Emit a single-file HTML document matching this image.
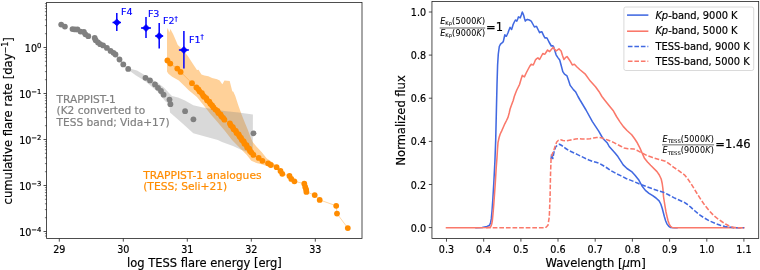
<!DOCTYPE html>
<html><head><meta charset="utf-8"><title>Flare rates and band responses</title>
<style>html,body{margin:0;padding:0;background:#fff}svg{display:block}text{font-family:'DejaVu Sans','Liberation Sans',sans-serif;}</style>
</head><body>
<svg width="760" height="270" viewBox="0 0 760 270">
<rect x="0" y="0" width="760" height="270" fill="#fff"/>
<clipPath id="cl"><rect x="46.6" y="2.4" width="315.4" height="236.15"/></clipPath>
<g clip-path="url(#cl)">
<polygon points="167.0,30.0 167.8,28.0 169.3,32.4 170.4,29.1 173.3,34.6 175.9,40.6 177.8,45.0 180.5,47.5 183.0,50.0 187.8,56.0 193.0,64.0 197.0,70.1 198.5,69.7 201.5,74.5 204.4,75.6 208.4,76.3 212.1,78.1 217.1,79.3 219.7,80.6 222.3,84.3 224.5,80.6 229.7,81.0 231.2,86.9 232.3,91.3 233.4,91.7 235.3,96.0 238.2,105.0 241.6,114.5 245.0,123.0 247.9,130.0 250.5,137.0 252.7,142.0 256.4,146.5 261.6,151.9 266.8,158.6 271.3,161.6 276.0,165.5 271.0,167.5 261.6,164.3 256.4,163.0 251.3,160.8 246.8,154.9 241.6,149.7 232.0,140.0 224.2,130.0 217.0,121.5 210.0,113.5 203.0,104.5 196.9,97.0 188.4,90.0 185.5,87.0 178.8,80.4 172.1,76.7 168.4,73.7 167.0,71.5" fill="#ff8c00" fill-opacity="0.4"/>
<polygon points="128.5,68.2 137.0,70.5 149.6,78.0 158.0,83.0 164.4,88.0 168.5,92.5 172.0,96.0 178.0,97.5 185.0,100.5 193.3,105.3 203.0,107.4 224.4,111.0 238.5,112.6 252.9,114.4 252.8,153.0 246.0,151.5 240.5,149.5 233.0,146.0 222.0,142.0 217.8,140.0 193.3,133.3 182.0,123.0 170.0,112.5 169.3,104.5 165.0,101.0 158.0,92.0 145.0,81.0 136.0,75.5 128.5,70.0" fill="#808080" fill-opacity="0.3"/>
<circle cx="61.2" cy="24.6" r="2.9" fill="#808080"/>
<circle cx="64.9" cy="26.6" r="2.9" fill="#808080"/>
<circle cx="72.5" cy="29.1" r="2.9" fill="#808080"/>
<circle cx="75.0" cy="29.4" r="2.9" fill="#808080"/>
<circle cx="77.5" cy="29.4" r="2.9" fill="#808080"/>
<circle cx="80.5" cy="31.6" r="2.9" fill="#808080"/>
<circle cx="83.9" cy="32.0" r="2.9" fill="#808080"/>
<circle cx="85.4" cy="34.3" r="2.9" fill="#808080"/>
<circle cx="88.3" cy="36.2" r="2.9" fill="#808080"/>
<circle cx="94.7" cy="38.0" r="2.9" fill="#808080"/>
<circle cx="95.7" cy="40.2" r="2.9" fill="#808080"/>
<circle cx="98.0" cy="42.4" r="2.9" fill="#808080"/>
<circle cx="100.2" cy="44.2" r="2.9" fill="#808080"/>
<circle cx="103.1" cy="45.4" r="2.9" fill="#808080"/>
<circle cx="106.9" cy="47.9" r="2.9" fill="#808080"/>
<circle cx="110.6" cy="50.9" r="2.9" fill="#808080"/>
<circle cx="113.5" cy="52.8" r="2.9" fill="#808080"/>
<circle cx="115.5" cy="54.5" r="2.9" fill="#808080"/>
<circle cx="119.5" cy="59.5" r="2.9" fill="#808080"/>
<circle cx="123.3" cy="64.4" r="2.9" fill="#808080"/>
<circle cx="128.2" cy="68.9" r="2.9" fill="#808080"/>
<circle cx="145.5" cy="77.8" r="2.9" fill="#808080"/>
<circle cx="150.0" cy="80.4" r="2.9" fill="#808080"/>
<circle cx="155.0" cy="84.4" r="2.9" fill="#808080"/>
<circle cx="158.0" cy="87.8" r="2.9" fill="#808080"/>
<circle cx="161.0" cy="91.0" r="2.9" fill="#808080"/>
<circle cx="163.6" cy="94.7" r="2.9" fill="#808080"/>
<circle cx="169.5" cy="99.6" r="2.9" fill="#808080"/>
<circle cx="170.4" cy="104.2" r="2.9" fill="#808080"/>
<circle cx="185.1" cy="111.2" r="2.9" fill="#808080"/>
<circle cx="193.4" cy="119.3" r="2.9" fill="#808080"/>
<circle cx="253.5" cy="133.3" r="2.9" fill="#808080"/>
<polyline points="167.4,60.5 170.3,63.6 177.3,68.6 180.6,71.9 192.0,83.2 196.4,87.5 198.4,89.3 199.7,91.6 201.9,93.2 203.1,95.6 204.1,96.7 206.2,98.1 207.1,100.3 209.3,101.7 210.4,103.8 212.1,105.4 213.5,107.4 215.5,109.6 217.5,110.9 218.4,113.0 220.5,114.3 221.4,116.3 223.1,117.8 224.4,119.7 229.9,123.5 230.9,125.6 232.8,127.1 233.7,129.3 235.8,130.8 236.6,133.1 238.7,134.4 239.6,136.6 241.0,137.9 241.9,140.0 243.7,141.5 244.5,143.7 246.5,145.1 247.2,147.4 249.2,148.7 250.0,150.9 251.5,152.6 253.5,154.9 258.7,157.9 262.4,160.8 268.1,163.3 270.8,165.0 276.6,167.2 280.5,171.0 282.3,173.8 289.5,176.0 291.3,178.9 294.4,181.3 304.3,183.7 305.2,186.9 306.1,189.5 306.4,191.9 314.7,195.1 319.7,199.9 336.2,205.8 337.0,213.6 347.8,228.1" fill="none" stroke="#ff8c00" stroke-opacity="0.35" stroke-width="1"/>
<circle cx="167.4" cy="60.5" r="2.9" fill="#ff8c00"/>
<circle cx="170.3" cy="63.6" r="2.9" fill="#ff8c00"/>
<circle cx="177.3" cy="68.6" r="2.9" fill="#ff8c00"/>
<circle cx="180.6" cy="71.9" r="2.9" fill="#ff8c00"/>
<circle cx="192.0" cy="83.2" r="2.9" fill="#ff8c00"/>
<circle cx="196.4" cy="87.5" r="2.9" fill="#ff8c00"/>
<circle cx="198.4" cy="89.3" r="2.9" fill="#ff8c00"/>
<circle cx="199.7" cy="91.6" r="2.9" fill="#ff8c00"/>
<circle cx="201.9" cy="93.2" r="2.9" fill="#ff8c00"/>
<circle cx="203.1" cy="95.6" r="2.9" fill="#ff8c00"/>
<circle cx="204.1" cy="96.7" r="2.9" fill="#ff8c00"/>
<circle cx="206.2" cy="98.1" r="2.9" fill="#ff8c00"/>
<circle cx="207.1" cy="100.3" r="2.9" fill="#ff8c00"/>
<circle cx="209.3" cy="101.7" r="2.9" fill="#ff8c00"/>
<circle cx="210.4" cy="103.8" r="2.9" fill="#ff8c00"/>
<circle cx="212.1" cy="105.4" r="2.9" fill="#ff8c00"/>
<circle cx="213.5" cy="107.4" r="2.9" fill="#ff8c00"/>
<circle cx="215.5" cy="109.6" r="2.9" fill="#ff8c00"/>
<circle cx="217.5" cy="110.9" r="2.9" fill="#ff8c00"/>
<circle cx="218.4" cy="113.0" r="2.9" fill="#ff8c00"/>
<circle cx="220.5" cy="114.3" r="2.9" fill="#ff8c00"/>
<circle cx="221.4" cy="116.3" r="2.9" fill="#ff8c00"/>
<circle cx="223.1" cy="117.8" r="2.9" fill="#ff8c00"/>
<circle cx="224.4" cy="119.7" r="2.9" fill="#ff8c00"/>
<circle cx="229.9" cy="123.5" r="2.9" fill="#ff8c00"/>
<circle cx="230.9" cy="125.6" r="2.9" fill="#ff8c00"/>
<circle cx="232.8" cy="127.1" r="2.9" fill="#ff8c00"/>
<circle cx="233.7" cy="129.3" r="2.9" fill="#ff8c00"/>
<circle cx="235.8" cy="130.8" r="2.9" fill="#ff8c00"/>
<circle cx="236.6" cy="133.1" r="2.9" fill="#ff8c00"/>
<circle cx="238.7" cy="134.4" r="2.9" fill="#ff8c00"/>
<circle cx="239.6" cy="136.6" r="2.9" fill="#ff8c00"/>
<circle cx="241.0" cy="137.9" r="2.9" fill="#ff8c00"/>
<circle cx="241.9" cy="140.0" r="2.9" fill="#ff8c00"/>
<circle cx="243.7" cy="141.5" r="2.9" fill="#ff8c00"/>
<circle cx="244.5" cy="143.7" r="2.9" fill="#ff8c00"/>
<circle cx="246.5" cy="145.1" r="2.9" fill="#ff8c00"/>
<circle cx="247.2" cy="147.4" r="2.9" fill="#ff8c00"/>
<circle cx="249.2" cy="148.7" r="2.9" fill="#ff8c00"/>
<circle cx="250.0" cy="150.9" r="2.9" fill="#ff8c00"/>
<circle cx="251.5" cy="152.6" r="2.9" fill="#ff8c00"/>
<circle cx="253.5" cy="154.9" r="2.9" fill="#ff8c00"/>
<circle cx="258.7" cy="157.9" r="2.9" fill="#ff8c00"/>
<circle cx="262.4" cy="160.8" r="2.9" fill="#ff8c00"/>
<circle cx="268.1" cy="163.3" r="2.9" fill="#ff8c00"/>
<circle cx="270.8" cy="165.0" r="2.9" fill="#ff8c00"/>
<circle cx="276.6" cy="167.2" r="2.9" fill="#ff8c00"/>
<circle cx="280.5" cy="171.0" r="2.9" fill="#ff8c00"/>
<circle cx="282.3" cy="173.8" r="2.9" fill="#ff8c00"/>
<circle cx="289.5" cy="176.0" r="2.9" fill="#ff8c00"/>
<circle cx="291.3" cy="178.9" r="2.9" fill="#ff8c00"/>
<circle cx="294.4" cy="181.3" r="2.9" fill="#ff8c00"/>
<circle cx="304.3" cy="183.7" r="2.9" fill="#ff8c00"/>
<circle cx="305.2" cy="186.9" r="2.9" fill="#ff8c00"/>
<circle cx="306.1" cy="189.5" r="2.9" fill="#ff8c00"/>
<circle cx="306.4" cy="191.9" r="2.9" fill="#ff8c00"/>
<circle cx="314.7" cy="195.1" r="2.9" fill="#ff8c00"/>
<circle cx="319.7" cy="199.9" r="2.9" fill="#ff8c00"/>
<circle cx="336.2" cy="205.8" r="2.9" fill="#ff8c00"/>
<circle cx="337.0" cy="213.6" r="2.9" fill="#ff8c00"/>
<circle cx="347.8" cy="228.1" r="2.9" fill="#ff8c00"/>
<path d="M116.8 13V31M112.6 22.4H121.0" stroke="#0000ff" stroke-width="1.5" fill="none"/>
<path d="M116.8 18.9L120.3 22.4L116.8 25.9L113.3 22.4Z" fill="#0000ff" stroke="#0000ff" stroke-width="0.7" stroke-linejoin="round"/>
<path d="M146 17V38M141 28H151" stroke="#0000ff" stroke-width="1.5" fill="none"/>
<path d="M146 24.5L149.5 28L146 31.5L142.5 28Z" fill="#0000ff" stroke="#0000ff" stroke-width="0.7" stroke-linejoin="round"/>
<path d="M159.2 23V48.4M155.2 36H163.2" stroke="#0000ff" stroke-width="1.5" fill="none"/>
<path d="M159.2 32.5L162.7 36L159.2 39.5L155.7 36Z" fill="#0000ff" stroke="#0000ff" stroke-width="0.7" stroke-linejoin="round"/>
<path d="M183.9 31.1V68.4M178.9 50H188.9" stroke="#0000ff" stroke-width="1.5" fill="none"/>
<path d="M183.9 46.5L187.4 50L183.9 53.5L180.4 50Z" fill="#0000ff" stroke="#0000ff" stroke-width="0.7" stroke-linejoin="round"/>
</g>
<text x="121.1" y="14.7" font-size="9.5" fill="#0000ff" text-anchor="start"  stroke="#0000ff" stroke-width="0.18">F4</text>
<text x="147.9" y="16.6" font-size="9.5" fill="#0000ff" text-anchor="start"  stroke="#0000ff" stroke-width="0.18">F3</text>
<text x="163.1" y="24.4" font-size="9.5" fill="#0000ff" text-anchor="start"  stroke="#0000ff" stroke-width="0.18">F2<tspan font-size="6.6" dy="-3.3">†</tspan></text>
<text x="189.1" y="42.6" font-size="9.5" fill="#0000ff" text-anchor="start"  stroke="#0000ff" stroke-width="0.18">F1<tspan font-size="6.6" dy="-3.3">†</tspan></text>
<text x="56.5" y="102.6" font-size="10.6" fill="#808080" text-anchor="start"  stroke="#808080" stroke-width="0.18">TRAPPIST-1</text>
<text x="56.5" y="114.1" font-size="10.6" fill="#808080" text-anchor="start"  stroke="#808080" stroke-width="0.18">(K2 converted to</text>
<text x="56.5" y="125.6" font-size="10.6" fill="#808080" text-anchor="start"  stroke="#808080" stroke-width="0.18">TESS band; Vida+17)</text>
<text x="143.2" y="178.8" font-size="10.7" fill="#ff8c00" text-anchor="start"  stroke="#ff8c00" stroke-width="0.18">TRAPPIST-1 analogues</text>
<text x="143.2" y="189.9" font-size="10.7" fill="#ff8c00" text-anchor="start"  stroke="#ff8c00" stroke-width="0.18">(TESS; Seli+21)</text>
<rect x="46.6" y="2.4" width="315.4" height="236.15" fill="none" stroke="#222" stroke-width="0.8"/>
<path d="M59.3 238.55v3.1" stroke="#222" stroke-width="0.8"/>
<text x="59.3" y="252.9" font-size="9.6" fill="#000" text-anchor="middle"  stroke="#000" stroke-width="0.18">29</text>
<path d="M123.3 238.55v3.1" stroke="#222" stroke-width="0.8"/>
<text x="123.3" y="252.9" font-size="9.6" fill="#000" text-anchor="middle"  stroke="#000" stroke-width="0.18">30</text>
<path d="M187.3 238.55v3.1" stroke="#222" stroke-width="0.8"/>
<text x="187.3" y="252.9" font-size="9.6" fill="#000" text-anchor="middle"  stroke="#000" stroke-width="0.18">31</text>
<path d="M251.3 238.55v3.1" stroke="#222" stroke-width="0.8"/>
<text x="251.3" y="252.9" font-size="9.6" fill="#000" text-anchor="middle"  stroke="#000" stroke-width="0.18">32</text>
<path d="M315.3 238.55v3.1" stroke="#222" stroke-width="0.8"/>
<text x="315.3" y="252.9" font-size="9.6" fill="#000" text-anchor="middle"  stroke="#000" stroke-width="0.18">33</text>
<path d="M46.6 47.5h-3.1" stroke="#222" stroke-width="0.8"/>
<text x="41.4" y="51.7" font-size="9.6" text-anchor="end" stroke="#000" stroke-width="0.18">10<tspan font-size="6.8" dy="-3.9">0</tspan></text>
<path d="M46.6 93.5h-3.1" stroke="#222" stroke-width="0.8"/>
<text x="41.4" y="97.7" font-size="9.6" text-anchor="end" stroke="#000" stroke-width="0.18">10<tspan font-size="6.8" dy="-3.9">−1</tspan></text>
<path d="M46.6 139.5h-3.1" stroke="#222" stroke-width="0.8"/>
<text x="41.4" y="143.7" font-size="9.6" text-anchor="end" stroke="#000" stroke-width="0.18">10<tspan font-size="6.8" dy="-3.9">−2</tspan></text>
<path d="M46.6 185.5h-3.1" stroke="#222" stroke-width="0.8"/>
<text x="41.4" y="189.7" font-size="9.6" text-anchor="end" stroke="#000" stroke-width="0.18">10<tspan font-size="6.8" dy="-3.9">−3</tspan></text>
<path d="M46.6 231.5h-3.1" stroke="#222" stroke-width="0.8"/>
<text x="41.4" y="235.7" font-size="9.6" text-anchor="end" stroke="#000" stroke-width="0.18">10<tspan font-size="6.8" dy="-3.9">−4</tspan></text>
<path d="M46.6 236.0h-1.7" stroke="#222" stroke-width="0.6"/>
<path d="M46.6 233.6h-1.7" stroke="#222" stroke-width="0.6"/>
<path d="M46.6 217.7h-1.7" stroke="#222" stroke-width="0.6"/>
<path d="M46.6 209.6h-1.7" stroke="#222" stroke-width="0.6"/>
<path d="M46.6 203.8h-1.7" stroke="#222" stroke-width="0.6"/>
<path d="M46.6 199.3h-1.7" stroke="#222" stroke-width="0.6"/>
<path d="M46.6 195.7h-1.7" stroke="#222" stroke-width="0.6"/>
<path d="M46.6 192.6h-1.7" stroke="#222" stroke-width="0.6"/>
<path d="M46.6 190.0h-1.7" stroke="#222" stroke-width="0.6"/>
<path d="M46.6 187.6h-1.7" stroke="#222" stroke-width="0.6"/>
<path d="M46.6 171.7h-1.7" stroke="#222" stroke-width="0.6"/>
<path d="M46.6 163.6h-1.7" stroke="#222" stroke-width="0.6"/>
<path d="M46.6 157.8h-1.7" stroke="#222" stroke-width="0.6"/>
<path d="M46.6 153.3h-1.7" stroke="#222" stroke-width="0.6"/>
<path d="M46.6 149.7h-1.7" stroke="#222" stroke-width="0.6"/>
<path d="M46.6 146.6h-1.7" stroke="#222" stroke-width="0.6"/>
<path d="M46.6 144.0h-1.7" stroke="#222" stroke-width="0.6"/>
<path d="M46.6 141.6h-1.7" stroke="#222" stroke-width="0.6"/>
<path d="M46.6 125.7h-1.7" stroke="#222" stroke-width="0.6"/>
<path d="M46.6 117.6h-1.7" stroke="#222" stroke-width="0.6"/>
<path d="M46.6 111.8h-1.7" stroke="#222" stroke-width="0.6"/>
<path d="M46.6 107.3h-1.7" stroke="#222" stroke-width="0.6"/>
<path d="M46.6 103.7h-1.7" stroke="#222" stroke-width="0.6"/>
<path d="M46.6 100.6h-1.7" stroke="#222" stroke-width="0.6"/>
<path d="M46.6 98.0h-1.7" stroke="#222" stroke-width="0.6"/>
<path d="M46.6 95.6h-1.7" stroke="#222" stroke-width="0.6"/>
<path d="M46.6 79.7h-1.7" stroke="#222" stroke-width="0.6"/>
<path d="M46.6 71.6h-1.7" stroke="#222" stroke-width="0.6"/>
<path d="M46.6 65.8h-1.7" stroke="#222" stroke-width="0.6"/>
<path d="M46.6 61.3h-1.7" stroke="#222" stroke-width="0.6"/>
<path d="M46.6 57.7h-1.7" stroke="#222" stroke-width="0.6"/>
<path d="M46.6 54.6h-1.7" stroke="#222" stroke-width="0.6"/>
<path d="M46.6 52.0h-1.7" stroke="#222" stroke-width="0.6"/>
<path d="M46.6 49.6h-1.7" stroke="#222" stroke-width="0.6"/>
<path d="M46.6 33.7h-1.7" stroke="#222" stroke-width="0.6"/>
<path d="M46.6 25.6h-1.7" stroke="#222" stroke-width="0.6"/>
<path d="M46.6 19.8h-1.7" stroke="#222" stroke-width="0.6"/>
<path d="M46.6 15.3h-1.7" stroke="#222" stroke-width="0.6"/>
<path d="M46.6 11.7h-1.7" stroke="#222" stroke-width="0.6"/>
<path d="M46.6 8.6h-1.7" stroke="#222" stroke-width="0.6"/>
<path d="M46.6 6.0h-1.7" stroke="#222" stroke-width="0.6"/>
<path d="M46.6 3.6h-1.7" stroke="#222" stroke-width="0.6"/>
<text x="204.4" y="266.5" font-size="11.5" fill="#000" text-anchor="middle"  stroke="#000" stroke-width="0.18">log TESS flare energy [erg]</text>
<text transform="translate(12,120.8) rotate(-90)" font-size="11.6" text-anchor="middle" stroke="#000" stroke-width="0.18">cumulative flare rate [day<tspan font-size="8" dy="-4.4">−1</tspan><tspan dy="4.4">]</tspan></text>
<clipPath id="cr"><rect x="431.95" y="1.55" width="326.75000000000006" height="237.0"/></clipPath>
<g clip-path="url(#cr)" fill="none" stroke-width="1.55" stroke-linejoin="round">
<path d="M476.0 227.8 L482.2 227.5 L487.0 226.5 L489.6 225.2 L490.6 222.5 L491.3 218.9 L492.0 211.0 L492.8 199.9 L493.8 183.0 L494.9 161.6 L495.7 140.0 L496.4 110.0 L497.0 85.0 L497.6 65.0 L498.3 54.0 L499.3 46.5 L500.5 44.2 L501.7 43.2 L503.3 41.6 L504.1 38.0 L504.8 34.8 L505.6 35.8 L506.3 36.3 L507.2 34.5 L508.0 32.7 L509.1 29.8 L510.1 27.4 L510.9 28.6 L511.6 29.5 L512.4 27.0 L513.2 24.3 L514.3 22.0 L515.4 20.0 L516.2 20.7 L516.8 21.1 L517.7 19.0 L518.5 16.9 L519.4 17.4 L520.2 17.9 L521.3 15.0 L522.3 12.0 L523.0 13.5 L523.8 15.8 L524.5 18.5 L525.3 21.1 L526.3 20.0 L527.4 19.4 L529.3 20.0 L531.2 21.1 L532.8 24.0 L534.4 27.0 L535.5 26.5 L536.5 26.4 L538.0 29.5 L539.6 32.7 L540.7 32.0 L541.8 31.7 L543.3 34.8 L544.9 38.0 L546.0 37.8 L547.0 38.0 L549.0 42.0 L551.3 46.0 L552.4 45.8 L553.4 46.2 L554.8 50.5 L556.1 54.8 L557.9 57.6 L559.7 60.0 L561.2 65.5 L562.8 71.6 L564.5 74.2 L567.0 75.9 L568.6 80.5 L570.2 85.4 L573.4 89.6 L575.5 91.7 L578.0 96.5 L579.7 99.5 L586.0 110.0 L592.4 121.6 L598.7 131.1 L602.9 138.5 L607.1 142.7 L609.2 146.5 L614.8 152.7 L617.9 156.6 L623.2 164.9 L627.0 168.5 L631.6 171.6 L635.0 175.3 L639.0 180.3 L642.0 186.0 L645.4 190.4 L649.0 193.3 L652.7 195.7 L656.0 198.0 L659.1 200.9 L660.8 204.0 L662.2 208.3 L663.3 212.5 L664.4 216.8 L665.7 221.0 L667.1 224.1 L668.8 226.3 L670.7 227.5 L674.0 227.8 L677.0 227.8" stroke="#4169e1" stroke-linecap="square"/>
<path d="M446.5 227.8 L480.0 227.8 L487.0 227.6 L490.6 227.0 L491.6 224.5 L492.3 221.0 L493.0 214.0 L493.8 204.1 L494.6 193.0 L495.3 183.0 L496.2 168.0 L497.0 157.4 L497.5 149.0 L498.0 142.7 L499.1 137.5 L500.2 134.0 L501.6 131.1 L503.2 127.5 L504.8 123.8 L506.5 120.5 L508.0 117.4 L509.2 113.0 L510.1 109.0 L511.7 104.5 L513.2 100.5 L514.3 96.5 L515.6 93.0 L516.8 90.0 L518.3 87.0 L519.6 84.3 L521.0 79.5 L522.3 75.4 L523.4 76.4 L524.4 76.9 L526.2 73.0 L528.0 69.5 L529.6 66.5 L531.2 64.3 L532.3 64.8 L533.3 64.9 L534.4 62.5 L535.4 60.0 L536.7 58.6 L537.9 57.9 L538.8 58.8 L539.6 59.4 L541.2 56.5 L542.8 53.5 L543.9 54.0 L544.9 54.2 L546.3 52.0 L547.6 50.0 L548.7 51.0 L549.7 51.6 L551.5 49.3 L553.3 47.4 L554.7 49.3 L556.1 51.0 L557.6 49.8 L559.0 48.9 L560.1 50.0 L561.1 51.0 L562.5 55.5 L563.9 59.4 L565.4 57.7 L567.0 56.5 L568.6 58.8 L570.2 61.1 L572.3 64.9 L574.4 64.3 L577.0 67.0 L579.7 69.5 L585.0 73.8 L590.3 81.1 L595.5 86.8 L599.1 91.7 L601.9 96.5 L605.0 100.5 L609.0 105.6 L613.5 111.1 L616.5 116.5 L619.8 121.6 L623.2 126.4 L627.0 130.5 L631.7 134.8 L634.8 139.0 L636.9 142.2 L640.1 148.4 L642.3 153.5 L644.3 157.9 L647.5 162.0 L650.6 165.3 L657.0 171.6 L659.3 175.0 L661.2 179.0 L662.2 183.5 L662.9 188.5 L663.5 196.5 L664.2 201.0 L665.0 206.2 L666.0 212.0 L667.1 216.8 L668.1 221.0 L669.2 224.1 L670.6 226.3 L672.2 227.5 L675.0 227.8 L743.9 227.8" stroke="#fa786a" stroke-linecap="square"/>
<path d="M551.1 159.0 L551.7 153.6 L552.8 158.5 L554.0 152.0 L555.6 147.0 L557.5 145.0 L559.5 144.3 L562.2 145.8 L565.0 148.0 L568.9 150.6 L573.0 152.5 L577.6 154.6 L583.3 157.4 L588.9 160.0 L592.4 161.4 L596.0 162.3 L599.7 163.5 L603.0 165.5 L607.1 168.0 L610.5 170.4 L617.7 174.3 L621.1 175.9 L626.1 178.5 L631.6 180.6 L639.0 183.7 L642.2 184.9 L652.7 188.9 L663.3 192.3 L668.0 194.5 L673.8 197.6 L679.0 200.0 L684.4 202.4 L687.5 204.5 L690.7 207.2 L695.0 211.0 L699.2 214.6 L704.0 217.8 L709.7 221.0 L715.0 223.3 L720.3 225.2 L725.0 226.4 L730.8 227.3 L736.0 227.8 L743.9 227.8" stroke="#4169e1" stroke-dasharray="4.7 1.9"/>
<path d="M486.1 227.8 L545.5 227.8 L548.0 225.2 L549.3 216.8 L550.1 195.7 L550.5 175.0 L551.1 158.0 L552.3 154.0 L553.9 150.0 L555.2 146.0 L556.7 142.0 L558.5 140.3 L560.6 139.8 L563.0 140.6 L565.6 140.9 L569.2 140.2 L572.2 139.8 L575.5 139.1 L578.9 138.7 L581.8 138.9 L584.4 138.9 L587.0 138.9 L590.0 138.7 L593.5 138.0 L596.7 137.5 L599.5 137.5 L602.2 138.0 L605.0 139.0 L608.4 140.3 L613.5 142.4 L616.9 144.3 L620.8 146.2 L624.0 147.9 L628.0 148.7 L633.8 148.9 L638.0 150.8 L642.2 153.2 L647.0 155.5 L652.7 157.6 L659.0 159.4 L665.4 161.3 L669.5 164.0 L673.8 167.4 L679.0 170.8 L684.4 174.8 L687.5 178.5 L690.7 183.2 L693.5 187.6 L697.0 193.5 L701.0 199.8 L705.5 206.2 L709.5 211.0 L713.9 215.7 L718.0 219.0 L722.4 222.0 L725.5 224.0 L728.7 225.8 L732.9 227.2 L737.0 227.8 L743.9 227.8" stroke="#fa786a" stroke-dasharray="4.7 1.9"/>
</g>
<rect x="431.95" y="1.55" width="326.75000000000006" height="237.0" fill="none" stroke="#222" stroke-width="0.8"/>
<path d="M446.5 238.55v3.1" stroke="#222" stroke-width="0.8"/>
<text x="446.5" y="252.5" font-size="9.6" fill="#000" text-anchor="middle"  stroke="#000" stroke-width="0.18">0.3</text>
<path d="M483.7 238.55v3.1" stroke="#222" stroke-width="0.8"/>
<text x="483.7" y="252.5" font-size="9.6" fill="#000" text-anchor="middle"  stroke="#000" stroke-width="0.18">0.4</text>
<path d="M520.9 238.55v3.1" stroke="#222" stroke-width="0.8"/>
<text x="520.9" y="252.5" font-size="9.6" fill="#000" text-anchor="middle"  stroke="#000" stroke-width="0.18">0.5</text>
<path d="M558.0 238.55v3.1" stroke="#222" stroke-width="0.8"/>
<text x="558.0" y="252.5" font-size="9.6" fill="#000" text-anchor="middle"  stroke="#000" stroke-width="0.18">0.6</text>
<path d="M595.2 238.55v3.1" stroke="#222" stroke-width="0.8"/>
<text x="595.2" y="252.5" font-size="9.6" fill="#000" text-anchor="middle"  stroke="#000" stroke-width="0.18">0.7</text>
<path d="M632.4 238.55v3.1" stroke="#222" stroke-width="0.8"/>
<text x="632.4" y="252.5" font-size="9.6" fill="#000" text-anchor="middle"  stroke="#000" stroke-width="0.18">0.8</text>
<path d="M669.6 238.55v3.1" stroke="#222" stroke-width="0.8"/>
<text x="669.6" y="252.5" font-size="9.6" fill="#000" text-anchor="middle"  stroke="#000" stroke-width="0.18">0.9</text>
<path d="M706.8 238.55v3.1" stroke="#222" stroke-width="0.8"/>
<text x="706.8" y="252.5" font-size="9.6" fill="#000" text-anchor="middle"  stroke="#000" stroke-width="0.18">1.0</text>
<path d="M743.9 238.55v3.1" stroke="#222" stroke-width="0.8"/>
<text x="743.9" y="252.5" font-size="9.6" fill="#000" text-anchor="middle"  stroke="#000" stroke-width="0.18">1.1</text>
<path d="M431.95 227.6h-3.1" stroke="#222" stroke-width="0.8"/>
<text x="426.1" y="231.6" font-size="9.6" fill="#000" text-anchor="end"  stroke="#000" stroke-width="0.18">0.0</text>
<path d="M431.95 184.5h-3.1" stroke="#222" stroke-width="0.8"/>
<text x="426.1" y="188.5" font-size="9.6" fill="#000" text-anchor="end"  stroke="#000" stroke-width="0.18">0.2</text>
<path d="M431.95 141.4h-3.1" stroke="#222" stroke-width="0.8"/>
<text x="426.1" y="145.4" font-size="9.6" fill="#000" text-anchor="end"  stroke="#000" stroke-width="0.18">0.4</text>
<path d="M431.95 98.2h-3.1" stroke="#222" stroke-width="0.8"/>
<text x="426.1" y="102.2" font-size="9.6" fill="#000" text-anchor="end"  stroke="#000" stroke-width="0.18">0.6</text>
<path d="M431.95 55.1h-3.1" stroke="#222" stroke-width="0.8"/>
<text x="426.1" y="59.1" font-size="9.6" fill="#000" text-anchor="end"  stroke="#000" stroke-width="0.18">0.8</text>
<path d="M431.95 12.0h-3.1" stroke="#222" stroke-width="0.8"/>
<text x="426.1" y="16.0" font-size="9.6" fill="#000" text-anchor="end"  stroke="#000" stroke-width="0.18">1.0</text>
<text x="595.6" y="266.8" font-size="11.6" text-anchor="middle" stroke="#000" stroke-width="0.18">Wavelength [<tspan font-style="italic">μ</tspan>m]</text>
<text transform="translate(404.9,120.4) rotate(-90)" font-size="11.5" text-anchor="middle" stroke="#000" stroke-width="0.18">Normalized flux</text>
<rect x="623.9" y="7" width="129.8" height="63.5" rx="1.9" fill="#fff" fill-opacity="0.8" stroke="#ccc" stroke-opacity="0.8" stroke-width="0.9"/>
<path d="M627.8 15.1H647.6" stroke="#4169e1" stroke-width="1.55" stroke-linecap="square" fill="none"/>
<text x="655.4" y="18.7" font-size="9.9" fill="#000" text-anchor="start"  stroke="#000" stroke-width="0.18"><tspan font-style="italic">Kp</tspan>-band, 9000 K</text>
<path d="M627.8 31.2H647.6" stroke="#fa786a" stroke-width="1.55" stroke-linecap="square" fill="none"/>
<text x="655.4" y="34.3" font-size="9.9" fill="#000" text-anchor="start"  stroke="#000" stroke-width="0.18"><tspan font-style="italic">Kp</tspan>-band, 5000 K</text>
<path d="M627.9 46.5H648.3" stroke="#4169e1" stroke-width="1.55" stroke-dasharray="4.6 1.9" fill="none"/>
<text x="655.4" y="49.7" font-size="9.9" fill="#000" text-anchor="start"  stroke="#000" stroke-width="0.18">TESS-band, 9000 K</text>
<path d="M627.9 61.3H648.3" stroke="#fa786a" stroke-width="1.55" stroke-dasharray="4.6 1.9" fill="none"/>
<text x="655.4" y="64.7" font-size="9.9" fill="#000" text-anchor="start"  stroke="#000" stroke-width="0.18">TESS-band, 5000 K</text>
<text x="440.3" y="23.7" font-size="8" stroke="#000" stroke-width="0.06"><tspan font-style="italic">E</tspan><tspan font-size="5.2" dy="1.6">Kp</tspan><tspan dy="-1.6" letter-spacing="0.2">(5000</tspan><tspan font-style="italic" letter-spacing="0.2">K</tspan>)</text>
<text x="440.3" y="35.8" font-size="8" stroke="#000" stroke-width="0.06"><tspan font-style="italic">E</tspan><tspan font-size="5.2" dy="1.6">Kp</tspan><tspan dy="-1.6" letter-spacing="0.2">(9000</tspan><tspan font-style="italic" letter-spacing="0.2">K</tspan>)</text>
<path d="M439.7 28.0H485.2" stroke="#000" stroke-width="0.6"/>
<text x="486.1" y="30.9" font-size="11.5" fill="#000" text-anchor="start"  stroke="#000" stroke-width="0.18">=1</text>
<text x="662.6" y="141.5" font-size="8" stroke="#000" stroke-width="0.06"><tspan font-style="italic">E</tspan><tspan font-size="5.2" dy="1.6">TESS</tspan><tspan dy="-1.6" letter-spacing="0.2">(5000</tspan><tspan font-style="italic" letter-spacing="0.2">K</tspan>)</text>
<text x="662.6" y="153.3" font-size="8" stroke="#000" stroke-width="0.06"><tspan font-style="italic">E</tspan><tspan font-size="5.2" dy="1.6">TESS</tspan><tspan dy="-1.6" letter-spacing="0.2">(9000</tspan><tspan font-style="italic" letter-spacing="0.2">K</tspan>)</text>
<path d="M662.0 144.85H714.1" stroke="#000" stroke-width="0.6"/>
<text x="715.3" y="147.9" font-size="11.5" fill="#000" text-anchor="start"  stroke="#000" stroke-width="0.18">=1.46</text>
</svg>
</body></html>
